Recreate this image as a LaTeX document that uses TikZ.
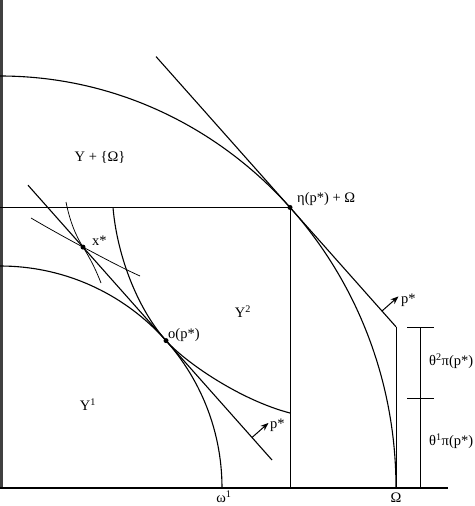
\documentclass[tikz,border=0pt]{standalone}
\usepackage{fontspec}
\setmainfont{Liberation Serif}
\usetikzlibrary{arrows.meta}
\begin{document}
\begin{tikzpicture}[x=1pt,y=-1pt,
  curve/.style={line width=1.1pt},
  thinline/.style={line width=0.75pt},
  lbl/.style={font=\fontsize{14.5}{16}\selectfont, inner sep=0pt},
  dot/.style={circle,fill,inner sep=0pt,minimum size=5pt},
  arr/.style={line width=1pt,-{Stealth[length=8pt,width=6pt]}}]
\useasboundingbox (0,0) rectangle (474,506);
% coordinates
\coordinate (axtop) at (1.3,0);
\coordinate (axbot) at (1.3,488);
\coordinate (O) at (0,488);
\coordinate (axend) at (448,488);
\coordinate (eta) at (290,207.44);
\coordinate (op) at (166,340.6);
\coordinate (xs) at (83,247.1);
\coordinate (hl) at (0,207.44);
\coordinate (etab) at (290,488);
\coordinate (U1) at (156,56.56);
\coordinate (U2) at (396,326.8);
\coordinate (Om) at (396,488);
\coordinate (L1) at (28,185.2);
\coordinate (L2) at (272,460.0);
\coordinate (ua) at (382,311.0);
\coordinate (uat) at (398.5,296.4);
\coordinate (la) at (252,437.5);
\coordinate (lat) at (268.5,422.9);
\coordinate (y2s) at (113,207.44);
\coordinate (y2e) at (290,413);
\coordinate (bt) at (420,327);
\coordinate (bb) at (420,488);
\coordinate (bm) at (420,398);
% axes
\draw[line width=2.6pt, black!75] (axtop) -- (axbot);
\draw[curve] (O) -- (axend);
% outer set Y + {Omega}
\draw[curve] (0,76) arc[start angle=90,end angle=0,x radius=396pt,y radius=412pt];
% Y^1
\draw[curve] (0,266) arc[start angle=90,end angle=0,radius=222pt];
% Y^2 boundary
\draw[curve] (y2s) .. controls (117,255) and (137,308) .. (op)
  .. controls (185,362) and (240,400) .. (y2e);
% thin box lines
\draw[thinline] (hl) -- (eta) -- (etab);
\draw[thinline] (U2) -- (Om);
% tangent lines
\draw[curve] (U1) -- (U2);
\draw[curve] (L1) -- (L2);
% curves through x*
\draw[thinline] (66,202) .. controls (70,222) and (76,236) .. (xs)
  .. controls (90,258) and (96,270) .. (101,283);
\draw[thinline] (31,218) .. controls (48,228) and (66,238) .. (xs)
  .. controls (100,256) and (120,267) .. (140,276);
% arrows
\draw[arr] (ua) -- (uat);
\draw[arr] (la) -- (lat);
% dots
\node[dot] at (eta) {};
\node[dot] at (op) {};
\node[dot] at (xs) {};
% bracket
\draw[thinline] (bt) -- (bb);
\draw[thinline] (407,327) -- (434,327);
\draw[thinline] (407,398) -- (434,398);
% labels
\node[lbl] (tYO) at (100,157) {Y + \{Ω\}};
\node[lbl,anchor=west] (teta) at (297,199) {η(p*) + Ω};
\node[lbl,anchor=west] (tx) at (92,241) {x*};
\node[lbl,anchor=west] (to) at (168,335) {o(p*)};
\node[lbl] (tY2) at (243,312) {Y\textsuperscript{2}};
\node[lbl] (tY1) at (88,405) {Y\textsuperscript{1}};
\node[lbl,anchor=west] (tpu) at (401,300) {p*};
\node[lbl,anchor=west] (tpl) at (270,425) {p*};
\node[lbl,anchor=west] (tth2) at (429,361) {θ\textsuperscript{2}π(p*)};
\node[lbl,anchor=west] (tth1) at (429,441) {θ\textsuperscript{1}π(p*)};
\node[lbl,anchor=south] (tw1) at (224,503) {ω\textsuperscript{1}};
\node[lbl,anchor=south] (tOm) at (396,503) {Ω};
\end{tikzpicture}
\end{document}
